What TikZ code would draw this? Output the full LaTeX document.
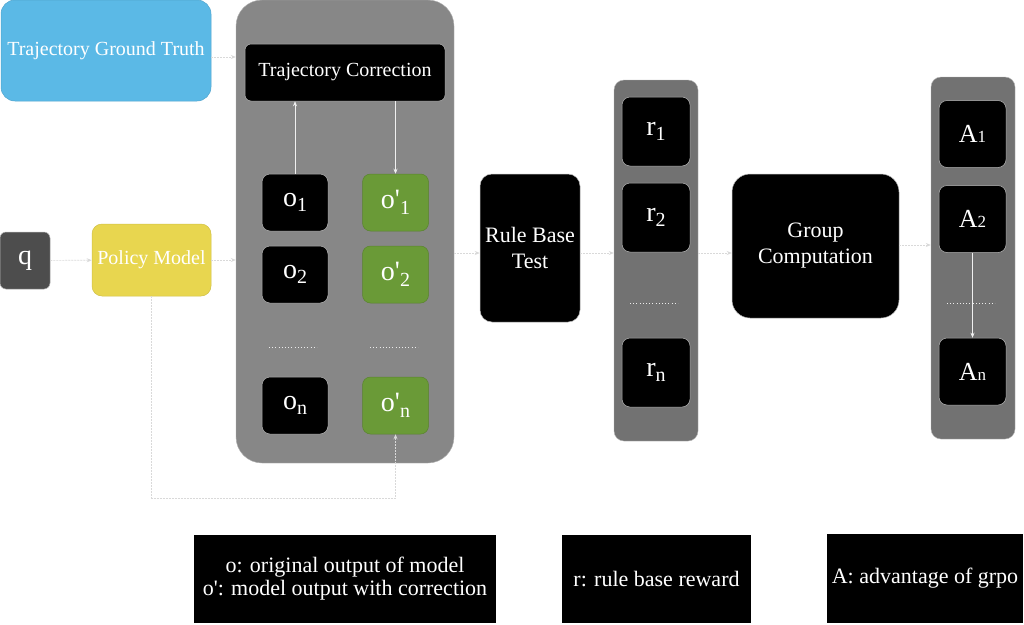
\documentclass[tikz,border=0pt]{standalone}
\usepackage{fontspec}
\setmainfont{Liberation Serif}
\newfontfamily\plainser{Liberation Serif}
\usetikzlibrary{arrows.meta}
\definecolor{gtblue}{HTML}{5BB9E6}
\definecolor{pmyellow}{HTML}{E8D64F}
\definecolor{okgreen}{HTML}{6A9A37}
\definecolor{biggray}{HTML}{878787}
\definecolor{colgray}{HTML}{727272}
\definecolor{qgray}{HTML}{4D4D4D}
\newcommand\lowsub[1]{\raisebox{-0.45ex}{\fontsize{20}{20}\selectfont #1}}
\newcommand\basesub[1]{{\fontsize{17}{17}\selectfont #1}}
\begin{document}
\begin{tikzpicture}[x=1pt,y=-1pt,
  blk/.style={fill=black, draw=gray!55, line width=0.5pt, rounded corners=8pt, text=white, inner sep=0pt, align=center},
  grn/.style={blk, fill=okgreen, draw=okgreen!85!black},
  cont/.style={inner sep=0pt, draw=gray!60, line width=0.4pt},
  leg/.style={fill=black, text=white, inner sep=0pt, align=center, font=\plainser\fontsize{22}{23}\selectfont},
  conn/.style={draw=gray!30, line width=0.7pt, dash pattern=on 2pt off 1pt, -{Stealth[length=5pt,width=4pt]}},
  inconn/.style={draw=white!88!gray, line width=0.6pt, -{Stealth[length=5pt,width=4pt]}},
  sep/.style={draw=white!85!gray, line width=0.8pt, dash pattern=on 1pt off 2.2pt}
]
\useasboundingbox[fill=white] (0,0) rectangle (1024,624);

% left column
\node[blk, fill=gtblue, draw=gtblue!90!black, rounded corners=14pt, minimum width=210, minimum height=101, font=\fontsize{20}{20}\selectfont] (gt) at (106,50.5) {Trajectory Ground Truth};
\node[blk, fill=qgray, draw=gray!60, rounded corners=6pt, minimum width=50, minimum height=57, font=\fontsize{28}{28}\selectfont] (q) at (25,260.5) {q};
\node[blk, fill=pmyellow, draw=pmyellow!90!black, rounded corners=10pt, minimum width=119, minimum height=72, font=\fontsize{20}{20}\selectfont] (pm) at (151.5,260) {Policy Model};

% big container
\node[cont, fill=biggray, rounded corners=26pt, minimum width=218, minimum height=463] (big) at (345,231.5) {};
\node[blk, rounded corners=6pt, minimum width=200, minimum height=57, font=\fontsize{20}{20}\selectfont] (tc) at (345,72.5) {Trajectory Correction};
\begin{scope}[every node/.append style={minimum width=66, minimum height=57, font=\plainser\fontsize{28}{28}\selectfont}]
\node[blk] (o1) at (295,202.5) {o\lowsub{1}};
\node[blk] (o2) at (295,274.5) {o\lowsub{2}};
\node[blk] (on) at (295,405.5) {o\lowsub{n}};
\node[grn] (op1) at (395.5,202.5) {o'\lowsub{1}};
\node[grn] (op2) at (395.5,274.5) {o'\lowsub{2}};
\node[grn] (opn) at (395.5,405.5) {o'\lowsub{n}};
\end{scope}
\coordinate (d1a) at (269,347); \coordinate (d1b) at (317,347);
\coordinate (d2a) at (370,347); \coordinate (d2b) at (418,347);
\draw[sep] (d1a) -- (d1b);
\draw[sep] (d2a) -- (d2b);

% rule base test
\node[blk, rounded corners=12pt, minimum width=100, minimum height=148, font=\fontsize{22}{26}\selectfont] (rbt) at (530,248) {Rule Base\\Test};

% r column
\node[cont, fill=colgray, rounded corners=10pt, minimum width=84, minimum height=361] (rc) at (656,260.5) {};
\begin{scope}[every node/.append style={minimum width=68, minimum height=69, font=\fontsize{28}{28}\selectfont}]
\node[blk] (r1) at (656,131.5) {r\lowsub{1}};
\node[blk] (r2) at (656,217.5) {r\lowsub{2}};
\node[blk] (rn) at (656,372.5) {r\lowsub{n}};
\end{scope}
\coordinate (d3a) at (630,303); \coordinate (d3b) at (678,303);
\draw[sep] (d3a) -- (d3b);

% group computation
\node[blk, rounded corners=18pt, minimum width=167, minimum height=144, font=\fontsize{22}{26}\selectfont] (gc) at (815.5,246) {Group\\Computation};

% A column
\node[cont, fill=colgray, rounded corners=10pt, minimum width=84, minimum height=362] (ac) at (973,258) {};
\begin{scope}[every node/.append style={minimum width=67, minimum height=67, font=\fontsize{26}{26}\selectfont}]
\node[blk] (a1) at (972.5,134) {A\basesub{1}};
\node[blk] (a2) at (972.5,219) {A\basesub{2}};
\node[blk] (an) at (972.5,371.5) {A\basesub{n}};
\end{scope}
\coordinate (d4a) at (947,303); \coordinate (d4b) at (995,303);
\draw[sep] (d4a) -- (d4b);

% legends
\node[leg, minimum width=302, minimum height=88] (l1) at (345,579) {o: original output of model\\o': model output with correction};
\node[leg, minimum width=189, minimum height=88] (l2) at (656.5,579) {r: rule base reward};
\node[leg, minimum width=196, minimum height=89] (l3) at (925,578.5) {A: advantage of grpo};

% connectors
\draw[conn] ([yshift=-6.5]gt.east) -- ([yshift=-6.5]gt.east -| big.west);
\draw[conn] (q) -- (pm);
\draw[conn] (pm) -- (pm -| big.west);
\draw[inconn] (o1) -- (o1 |- tc.south);
\draw[inconn] (op1 |- tc.south) -- (op1);
\coordinate (fb1) at (151.5,498);
\coordinate (fb2) at (395.5,498);
\draw[conn] (pm.south) -- (fb1) -- (fb2) -- (opn.south);
\draw[conn] (big.east |- 0,253) -- (rbt.west |- 0,253);
\draw[conn] (rbt.east |- 0,253) -- (rc.west |- 0,253);
\draw[conn] (rc.east |- 0,253) -- (gc.west |- 0,253);
\draw[conn] (gc.east |- 0,245) -- (ac.west |- 0,245);
\draw[inconn] (a2) -- (an);
\end{tikzpicture}
\end{document}
